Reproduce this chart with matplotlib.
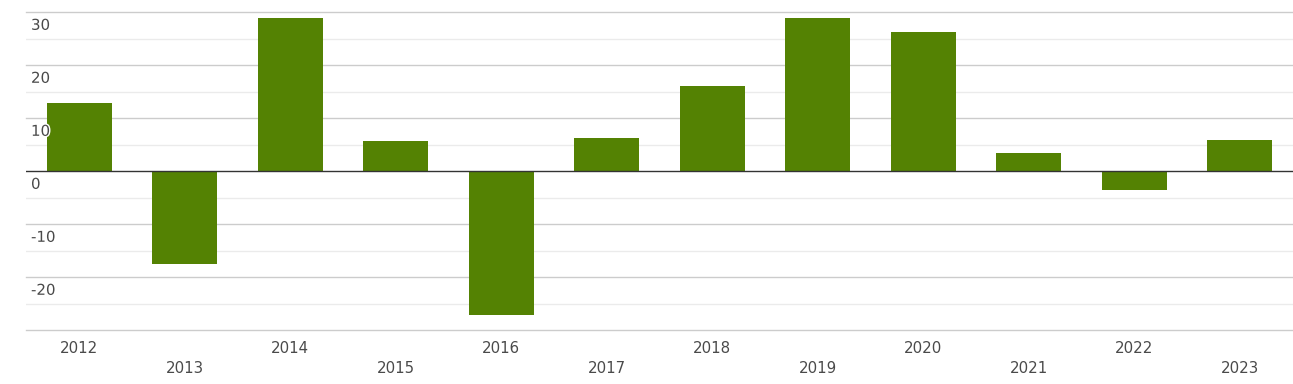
import matplotlib
matplotlib.use("Agg")
import matplotlib.pyplot as plt
import matplotlib.transforms as mtrans
import matplotlib.patheffects as pe

years = ["2012", "2013", "2014", "2015", "2016", "2017",
         "2018", "2019", "2020", "2021", "2022", "2023"]
values = [12.9, -17.4, 28.9, 5.7, -27.2, 6.3, 16.1, 28.9, 26.3, 3.45, -3.5, 5.9]
major_ticks = [30, 20, 10, 0, -10, -20, -30]
minor_ticks = [25, 15, 5, -5, -15, -25]

W, H = 1293, 384
fig = plt.figure(figsize=(W / 100, H / 100), dpi=100)
ax = fig.add_axes([26 / W, 1 - 330.3 / H, 1 - 26 / W, (330.3 - 12.3) / H])

x = range(len(years))
ax.bar(x, values, width=0.616, color="#548203", zorder=3)
ax.set_xlim(-0.507, len(years) - 1 + 0.507)
ax.set_ylim(-30, 30)

for v in major_ticks:
    if v == 0:
        continue
    ax.axhline(v, color="#cccccc", lw=1, zorder=1, clip_on=False)
for v in minor_ticks:
    ax.axhline(v, color="#ebebeb", lw=1, zorder=1)
ax.axhline(0, color="#333333", lw=1, zorder=4)

for s in ax.spines.values():
    s.set_visible(False)
ax.set_xticks([])
ax.set_yticks([])

txt = "#4a4a4a"
halo = [pe.withStroke(linewidth=2, foreground="white")]
ytr = mtrans.offset_copy(ax.get_yaxis_transform(), fig=fig, x=5, y=-5.5, units="dots")
for v in major_ticks[:-1]:
    ax.text(0, v, str(v), transform=ytr, ha="left", va="top",
            fontsize=10.8, color=txt, zorder=5, path_effects=halo)

for i, yr in enumerate(years):
    dy = -11 if i % 2 == 0 else -31
    tr = mtrans.offset_copy(ax.get_xaxis_transform(), fig=fig, x=0, y=dy, units="dots")
    ax.text(i, 0, yr, transform=tr, ha="center", va="top", fontsize=10.8, color=txt)

fig.savefig("out.png", dpi=100)
